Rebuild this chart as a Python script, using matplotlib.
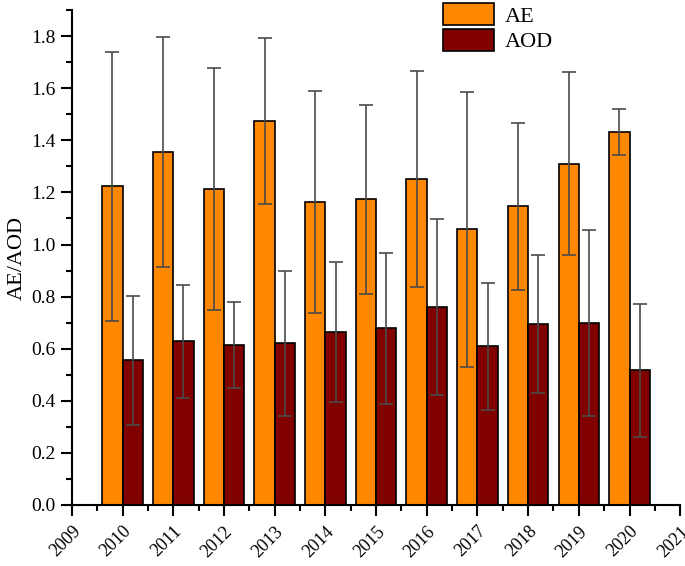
import matplotlib
matplotlib.use("Agg")
import matplotlib.pyplot as plt
import numpy as np
from matplotlib.ticker import MultipleLocator


# ==========================================
# 1. 数据
# ==========================================

years = [2010, 2011, 2012, 2013, 2014, 2015, 2016, 2017, 2018, 2019, 2020]

ae_mean = [1.223, 1.355, 1.214, 1.474, 1.164, 1.173, 1.250, 1.059, 1.146, 1.310, 1.432]
ae_std = [0.516, 0.442, 0.465, 0.320, 0.427, 0.362, 0.415, 0.528, 0.320, 0.352, 0.090]

aod_mean = [0.556, 0.628, 0.615, 0.620, 0.664, 0.678, 0.759, 0.609, 0.694, 0.697, 0.517]
aod_std = [0.248, 0.218, 0.166, 0.279, 0.268, 0.290, 0.338, 0.244, 0.265, 0.357, 0.255]

tick_years = list(range(2009, 2022))


# ==========================================
# 2. 绘图
# ==========================================

plt.rcParams["font.family"] = ["Liberation Serif", "DejaVu Serif"]

fig = plt.figure(figsize=(6.85, 5.66), dpi=100)
ax = fig.add_axes([0.105, 0.108, 0.888, 0.874])

x = np.array(years)
width = 0.4

err_style = dict(ecolor="#4a4a4a", elinewidth=1.2, capsize=5, capthick=1.2)

ax.bar(
    x - width / 2,
    ae_mean,
    width,
    color="#FF8800",
    edgecolor="black",
    linewidth=1.2,
    label="AE",
    yerr=ae_std,
    error_kw=err_style,
)

ax.bar(
    x + width / 2,
    aod_mean,
    width,
    color="#800000",
    edgecolor="black",
    linewidth=1.2,
    label="AOD",
    yerr=aod_std,
    error_kw=err_style,
)

ax.set_xlim(2009, 2021)
ax.set_ylim(0, 1.9)

ax.set_xticks(tick_years)
ax.set_xticklabels(
    [str(y) for y in tick_years],
    rotation=45,
    ha="right",
    rotation_mode="anchor",
    fontsize=13,
)
ax.xaxis.set_minor_locator(MultipleLocator(0.5))

ax.set_yticks(np.arange(0, 1.81, 0.2))
ax.set_yticklabels([f"{v:.1f}" for v in np.arange(0, 1.81, 0.2)], fontsize=14)
ax.yaxis.set_minor_locator(MultipleLocator(0.1))

ax.tick_params(which="major", direction="out", length=8, width=1.5)
ax.tick_params(which="minor", direction="out", length=4, width=1.5)
ax.tick_params(axis="x", which="major", pad=5)
ax.tick_params(axis="y", which="major", pad=4)

ax.spines["top"].set_visible(False)
ax.spines["right"].set_visible(False)
ax.spines["left"].set_linewidth(1.5)
ax.spines["bottom"].set_linewidth(1.5)

ax.set_ylabel("AE/AOD", fontsize=16, labelpad=3)

fig.legend(
    loc="upper left",
    bbox_to_anchor=(0.627, 1.018),
    frameon=False,
    fontsize=16,
    handlelength=2.3,
    handleheight=1.15,
    labelspacing=0.1,
    borderpad=0.1,
    handletextpad=0.5,
)

fig.savefig("out.png", dpi=100)
